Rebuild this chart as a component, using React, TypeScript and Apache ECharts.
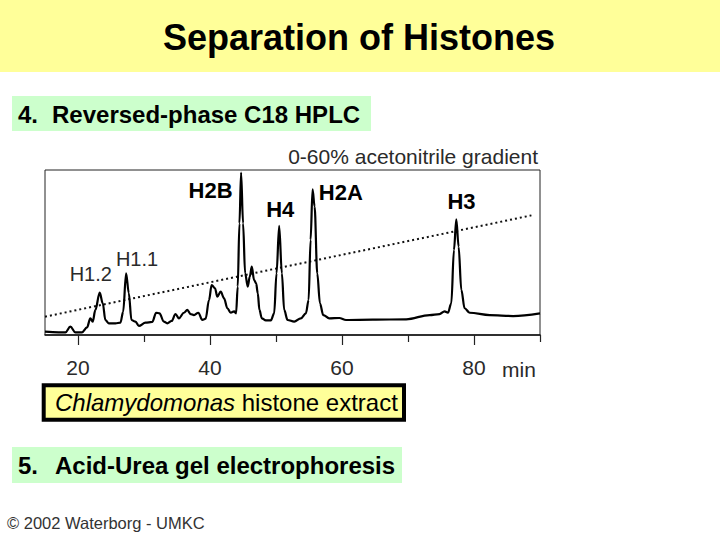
import React, { useEffect, useRef } from "react";
import * as echarts from "echarts";

// Chromatogram trace (retention time in min, detector signal in arbitrary units)
const times = [
  15, 17.06, 18.1, 18.84, 19.6, 20.6, 21.37, 21.87, 22.23, 22.63, 23.29, 23.75, 24.15, 24.66,
  25.67, 26.43, 26.84, 27.29, 27.7, 28.1, 28.71, 29.22, 30.23, 31.24, 31.85, 32.35, 33.01,
  33.52, 34.18, 34.78, 35.29, 36.05, 36.56, 37.06, 37.57, 38.23, 38.84, 39.34, 39.85, 40.25,
  40.76, 41.11, 41.62, 42.13, 42.63, 43.14, 43.65, 43.95, 44.2, 44.46, 44.71, 45.01, 45.32,
  45.72, 46.03, 46.33, 46.68, 46.99, 47.24, 47.49, 47.85, 48.46, 49.22, 49.72, 50.08, 50.48,
  50.89, 51.24, 51.75, 52.76, 53.77, 54.53, 54.94, 55.24, 55.54, 55.85, 56.25, 56.66, 57.16,
  58.08, 59.59, 60.61, 64.66, 69.72, 73.27, 74.78, 75.54, 76.05, 76.56, 76.96, 77.32, 77.67,
  78.08, 78.58, 79.34, 82.38, 85.92, 90,
];
const signal = [
  2.0, 1.6, 1.6, 5.1, 1.6, 1.6, 4.6, 10.1, 8.1, 15.2, 25.7, 19.2, 9.1, 7.1,
  7.1, 7.5, 14.1, 37.4, 25.3, 9.1, 8.1, 5.5, 7.5, 7.9, 13.5, 13.1, 8.1,
  7.1, 8.5, 12.7, 10.1, 13.5, 15.2, 12.7, 12.1, 13.5, 9.1, 9.9, 21.2, 30.3,
  28.3, 23.2, 26.3, 22.2, 16.2, 13.5, 14.3, 13.1, 29.3, 67.7, 98.4, 67.7, 37.4,
  29.3, 35.4, 41.4, 33.3, 31.3, 25.3, 15.2, 10.1, 8.9, 8.9, 13.1, 37.4, 66.1,
  37.4, 15.2, 9.1, 8.1, 10.1, 13.1, 21.2, 57.6, 88.3, 77.8, 37.4, 19.2, 12.1,
  10.1, 10.3, 9.1, 9.3, 9.5, 12.1, 12.7, 14.3, 13.5, 19.2, 51.5, 70.1, 53.5,
  27.3, 16.2, 13.5, 12.1, 11.5, 13.1,
];

// Acetonitrile gradient (dotted line)
const gradientTimes = [15, 88.7];
const gradientLevels = [11.1, 72.5];

// Axis ticks
const tickLabels = [20, 40, 60, 80];
const minorTicks = [30, 50, 70, 90];

// Peak annotations
const peakNames = ["H1.2", "H1.1", "H2B", "H4", "H2A", "H3"];
const peakLabelTimes = [21.94, 28.94, 40.08, 50.65, 59.82, 78.11];
const peakLabelLevels = [37.1, 45.9, 87.4, 76.1, 86.5, 81.0];
const peakBold = [false, false, true, true, true, true];

const FONT = "'Liberation Sans', Arial, Helvetica, sans-serif";

function txt(x: number, y: number, text: string, size: number, opts: any = {}) {
  const align = opts.align || "left";
  return {
    type: "text",
    x,
    y,
    z: 10,
    style: {
      text,
      fontSize: size,
      fontFamily: FONT,
      fontWeight: opts.bold ? "bold" : "normal",
      fill: opts.color || "#000",
      textAlign: align,
      align,
      textVerticalAlign: "middle",
      verticalAlign: "middle",
      rich: opts.rich,
    },
  };
}

export default function App() {
  const ref = useRef<HTMLDivElement>(null);

  useEffect(() => {
    if (!ref.current) return;
    const chart = echarts.init(ref.current, null, { renderer: "svg" });

    const trace = times.map((t, i) => [t, signal[i]]);
    const gradient = gradientTimes.map((t, i) => [t, gradientLevels[i]]);
    const labels = peakNames.map((n, i) => ({
      name: n,
      value: [peakLabelTimes[i], peakLabelLevels[i]],
      label: {
        show: true,
        position: "inside",
        formatter: "{b}",
        fontFamily: FONT,
        fontWeight: peakBold[i] ? "bold" : "normal",
        fontSize: peakBold[i] ? 22 : 20,
        color: peakBold[i] ? "#000" : "#2a2a2a",
        textBorderWidth: 0,
      },
    }));

    chart.setOption({
      animation: false,
      backgroundColor: "#fff",
      textStyle: { fontFamily: FONT },
      grid: {
        left: 45,
        top: 170,
        width: 495,
        height: 165,
        show: true,
        borderColor: "#222",
        borderWidth: 1,
        backgroundColor: "transparent",
      },
      xAxis: [
        {
          type: "value",
          min: 15,
          max: 90,
          position: "bottom",
          axisLine: { show: true, lineStyle: { color: "#111", width: 1.5 } },
          axisTick: {
            show: true,
            customValues: tickLabels,
            length: 10,
            lineStyle: { color: "#222", width: 1.2 },
          },
          axisLabel: {
            customValues: tickLabels,
            fontSize: 21,
            color: "#2a2a2a",
            margin: 22,
            fontFamily: FONT,
          },
          splitLine: { show: false },
        },
        {
          type: "value",
          min: 15,
          max: 90,
          position: "bottom",
          axisLine: { show: false },
          axisTick: {
            show: true,
            customValues: minorTicks,
            length: 7,
            lineStyle: { color: "#222", width: 1.2 },
          },
          axisLabel: { show: false },
          splitLine: { show: false },
        },
      ],
      yAxis: {
        type: "value",
        min: 0,
        max: 100,
        show: false,
        splitLine: { show: false },
      },
      series: [
        {
          type: "line",
          data: gradient,
          symbol: "none",
          lineStyle: { color: "#111", width: 2, type: [2, 3] },
          z: 2,
        },
        {
          type: "line",
          data: trace,
          symbol: "none",
          smooth: 0.35,
          smoothMonotone: "x",
          lineStyle: { color: "#000", width: 2.2 },
          z: 3,
        },
        {
          type: "scatter",
          data: labels,
          symbolSize: 0,
          silent: true,
          itemStyle: { color: "#000", opacity: 1 },
          label: {
            show: true,
            position: "inside",
            formatter: "{b}",
            fontFamily: FONT,
            color: "#000",
          },
          z: 4,
        },
      ],
      graphic: [
        { type: "rect", z: -5, shape: { x: 0, y: 0, width: 720, height: 72 }, style: { fill: "#FFFF99" } },
        txt(359, 37, "Separation of Histones", 36, { bold: true, align: "center" }),
        { type: "rect", z: -5, shape: { x: 12, y: 96, width: 359, height: 35 }, style: { fill: "#CCFFCC" } },
        txt(18, 114, "4.", 24, { bold: true }),
        txt(52, 114, "Reversed-phase C18 HPLC", 24, { bold: true }),
        txt(538, 156, "0-60% acetonitrile gradient", 21, { align: "right", color: "#2a2a2a" }),
        txt(519, 369, "min", 21, { align: "center", color: "#2a2a2a" }),
        {
          type: "rect",
          z: -5,
          shape: { x: 43.7, y: 385.3, width: 360.3, height: 34.4 },
          style: { fill: "#FFFF99", stroke: "#000", lineWidth: 4 },
        },
        txt(55, 402, "{i|Chlamydomonas} histone extract", 24, {
          rich: { i: { fontStyle: "italic", fontSize: 24, fontFamily: FONT, fill: "#000" } },
        }),
        { type: "rect", z: -5, shape: { x: 12, y: 447, width: 390, height: 36 }, style: { fill: "#CCFFCC" } },
        txt(18, 465, "5.", 24, { bold: true }),
        txt(55, 465, "Acid-Urea gel electrophoresis", 24, { bold: true }),
        txt(7, 523, "© 2002 Waterborg - UMKC", 16.5, { color: "#333" }),
      ],
    });

    return () => chart.dispose();
  }, []);

  return (
    <div
      ref={ref}
      style={{ position: "fixed", left: 0, top: 0, width: 720, height: 540, background: "#fff" }}
    />
  );
}
